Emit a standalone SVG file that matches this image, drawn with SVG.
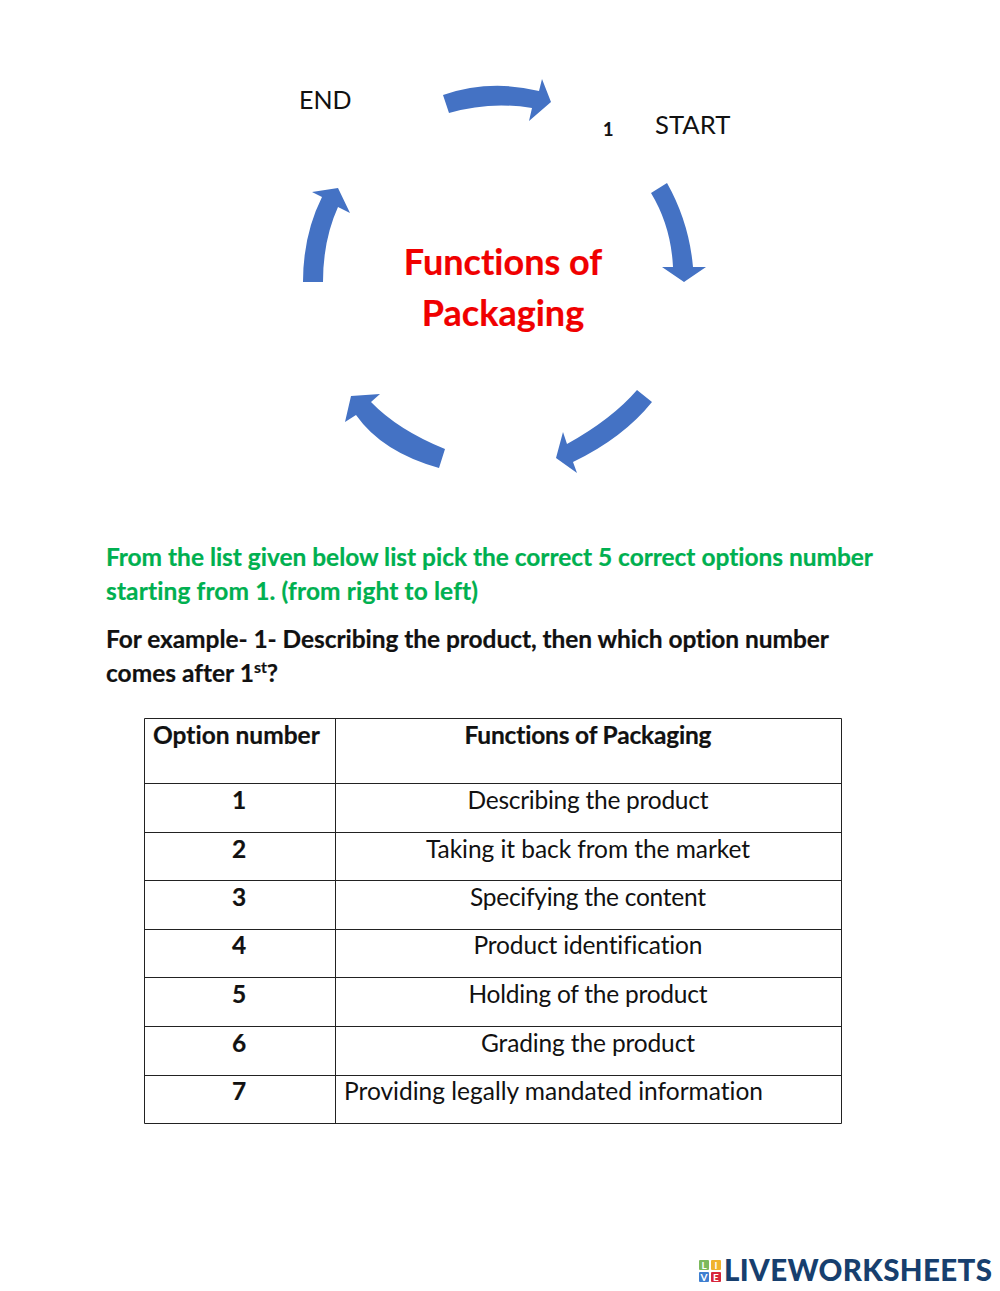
<svg xmlns="http://www.w3.org/2000/svg" width="1000" height="1291" viewBox="0 0 1000 1291">
<style>
text{font-family:"Lato","Carlito","Liberation Sans",sans-serif;fill:#111;font-variant-ligatures:none}
.b{font-weight:700;stroke:#111;stroke-width:.2}
.t{font-size:24.5px}
.m{text-anchor:middle}
.arrow{fill:#4472c4}
.grid{stroke:#222;stroke-width:1;fill:none}
.tile{font-size:10px;font-weight:700;fill:#fff;text-anchor:middle}
.red{fill:#f00000;stroke:#f00000}
.green{fill:#00b050;stroke:#00b050}
</style>
<rect width="1000" height="1291" fill="#fff"/>
<g id="connectors">
<path class="arrow" d="M443,95 Q490,79 539,91 L542,79 L551,102 L529,121 L532,108 Q490,101 449,113 Z"/>
<path class="arrow" d="M667,183 Q689,222 693,267 L706,267 L684,282 L662,267 L673,267 Q671,226 651,193 Z"/>
<path class="arrow" d="M637,390 Q612,419 567,444 L563,432 L556,458 L577,473 L573,462 Q623,438 652,402 Z"/>
<path class="arrow" d="M445,449 Q398,430 371,402 L380,394 L351,396 L345,422 L356,415 Q382,452 439,468 Z"/>
<path class="arrow" d="M303,282 Q303,235 322,197 L312,192 L338,188 L350,213 L338,207 Q323,240 323,282 Z"/>
</g>
<g id="end"><text x="299" y="108.500" font-size="25">END</text></g>
<g id="start"><text x="655" y="133.500" font-size="25.700">START</text></g>
<g id="num"><text x="603" y="136" font-size="18" class="b">1</text></g>
<g id="center">
<text x="503" y="275" font-size="36" class="b m red">Functions of</text>
<text x="503" y="326" font-size="36" class="b m red">Packaging</text>
</g>
<g id="instructions">
<text x="106" y="565.500" class="b t green" textLength="767">From the list given below list pick the correct 5 correct options number</text>
<text x="106" y="599.500" class="b t green" textLength="372">starting from 1. (from right to left)</text>
<text x="106" y="647.500" class="b t" textLength="723">For example- 1- Describing the product, then which option number</text>
<text x="106" y="681.500" class="b t">comes after 1<tspan font-size="16" dy="-9">st</tspan><tspan dy="9">?</tspan></text>
</g>
<g id="table">
<path class="grid" d="M144.500,718.500H841.500V1123.500H144.500Z M335.500,718.500V1123.500 M144.500,783.500H841.500 M144.500,832.500H841.500 M144.500,880.500H841.500 M144.500,929.500H841.500 M144.500,977.500H841.500 M144.500,1026.500H841.500 M144.500,1075.500H841.500"/>
<text x="153" y="743.500" class="b t">Option number</text>
<text x="588" y="743.500" class="b t m" textLength="247">Functions of Packaging</text>
<text x="239" y="808.500" class="b t m">1</text><text x="588" y="808.500" class="t m" textLength="241">Describing the product</text>
<text x="239" y="857.500" class="b t m">2</text><text x="588" y="857.500" class="t m" textLength="324">Taking it back from the market</text>
<text x="239" y="906" class="b t m">3</text><text x="588" y="906" class="t m" textLength="236">Specifying the content</text>
<text x="239" y="954" class="b t m">4</text><text x="588" y="954" class="t m" textLength="229">Product identification</text>
<text x="239" y="1002.500" class="b t m">5</text><text x="588" y="1002.500" class="t m" textLength="239">Holding of the product</text>
<text x="239" y="1051.500" class="b t m">6</text><text x="588" y="1051.500" class="t m" textLength="214">Grading the product</text>
<text x="239" y="1100" class="b t m">7</text><text x="344" y="1100" class="t" textLength="419">Providing legally mandated information</text>
</g>
<g id="logo">
<rect x="699" y="1260" width="10" height="10" rx="1" fill="#7cb95c"/>
<rect x="711" y="1260" width="10" height="10" rx="1" fill="#f0b32e"/>
<rect x="699" y="1272" width="10" height="10" rx="1" fill="#3f7fd0"/>
<rect x="711" y="1272" width="10" height="10" rx="1" fill="#d8263c"/>
<text x="704" y="1269" class="tile">L</text><text x="716" y="1269" class="tile">I</text>
<text x="704" y="1281" class="tile">V</text><text x="716" y="1281" class="tile">E</text>
<text x="724" y="1281" font-size="29.500" font-weight="900" style="fill:#173f6e" textLength="268">LIVEWORKSHEETS</text>
</g>
</svg>
